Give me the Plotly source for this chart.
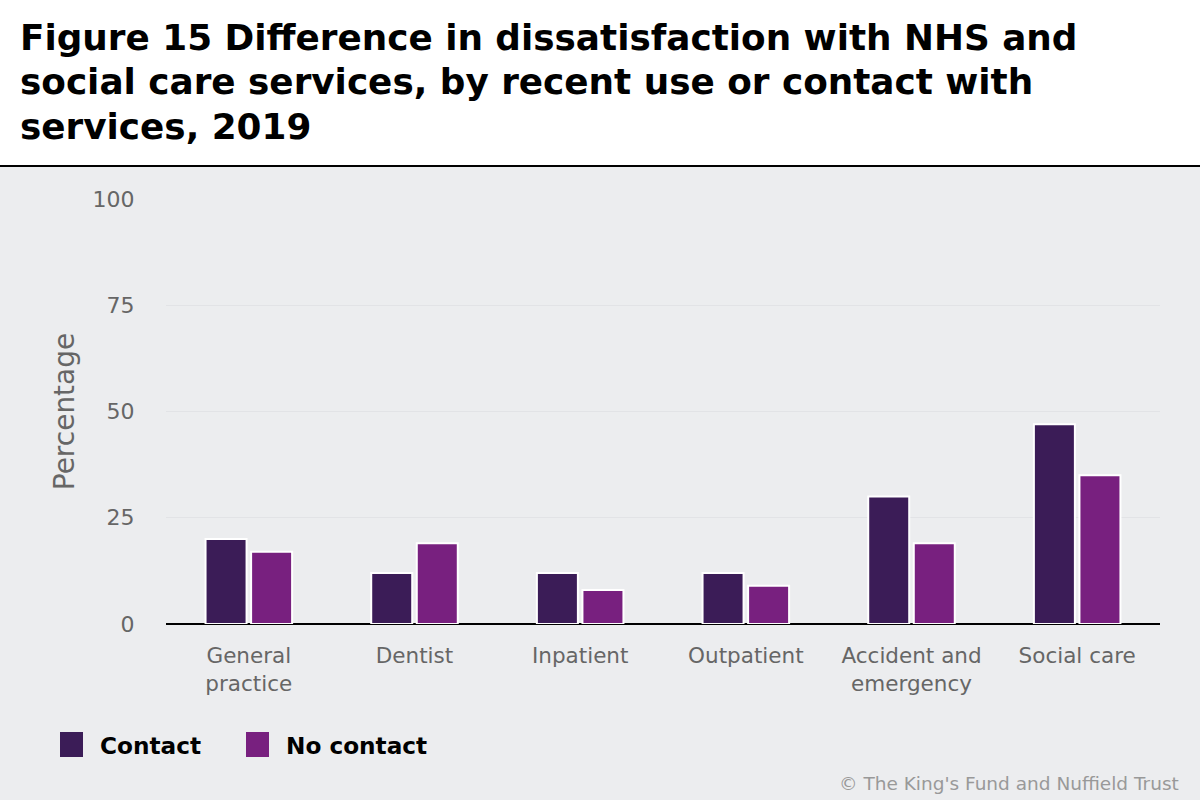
import plotly.graph_objects as go

categories = ["General<br>practice", "Dentist", "Inpatient", "Outpatient", "Accident and<br>emergency", "Social care"]
contact = [20, 12, 12, 12, 30, 47]
no_contact = [17, 19, 8, 9, 19, 35]
series_names = ["Contact", "No contact"]
series_colors = ["#3B1C57", "#78207F"]
y_ticks = [0, 25, 50, 75, 100]
title_lines = ["Figure 15 Difference in dissatisfaction with NHS and",
               "social care services, by recent use or contact with",
               "services, 2019"]
source_text = "© The King's Fund and Nuffield Trust"

W, H = 1200, 800
BG = "#ECEDEF"
FONT = "DejaVu Sans, Verdana, sans-serif"

fig = go.Figure()
for name, vals, col in zip(series_names, [contact, no_contact], series_colors):
    fig.add_trace(go.Bar(
        x=categories, y=vals, name=name,
        marker=dict(color=col, line=dict(color="white", width=2)),
        showlegend=False,
    ))

plot_top, plot_bot = 199, 624
plot_l, plot_r = 166, 1160
def py(ypix):
    return (plot_bot - ypix) / (plot_bot - plot_top)
def px(xpix):
    return (xpix - plot_l) / (plot_r - plot_l)

shapes = [
    dict(type="rect", xref="paper", yref="paper", x0=px(0), x1=px(W), y0=py(166), y1=py(0),
         line=dict(width=0), fillcolor="white", layer="below"),
    dict(type="line", xref="paper", yref="paper", x0=px(0), x1=px(W), y0=py(166), y1=py(166),
         line=dict(color="black", width=2)),
]
annotations = []
for i, line in enumerate(title_lines):
    annotations.append(dict(text="<b>" + line + "</b>", xref="paper", yref="paper",
                            x=px(18), y=py(37 + 45 * i), xanchor="left", yanchor="middle",
                            showarrow=False, font=dict(family=FONT, size=35.8, color="black")))
# legend
leg_items = [(60, 98), (246, 284)]
for (bx, tx), name, col in zip(leg_items, series_names, series_colors):
    shapes.append(dict(type="rect", xref="paper", yref="paper", x0=px(bx), x1=px(bx + 23),
                       y0=py(757), y1=py(732), line=dict(width=0), fillcolor=col))
    annotations.append(dict(text="<b>" + name + "</b>", xref="paper", yref="paper", x=px(tx), y=py(745),
                            xanchor="left", yanchor="middle", showarrow=False,
                            font=dict(family=FONT, size=23.2, color="black")))
annotations.append(dict(text=source_text, xref="paper", yref="paper",
                        x=px(1181), y=py(783), xanchor="right", yanchor="middle", showarrow=False,
                        font=dict(family=FONT, size=18.5, color="#999999")))

fig.update_layout(
    width=W, height=H,
    paper_bgcolor=BG, plot_bgcolor=BG,
    margin=dict(l=plot_l, r=W - plot_r, t=plot_top, b=H - plot_bot, pad=0),
    barmode="group", bargap=0.45, bargroupgap=0.1,
    shapes=shapes, annotations=annotations,
    font=dict(family=FONT),
)
fig.update_xaxes(showgrid=False, showline=False, zeroline=False,
                 ticks="outside", ticklen=12, tickcolor="rgba(0,0,0,0)",
                 tickfont=dict(family=FONT, size=21.5, color="#666666"))
fig.update_yaxes(range=[0, 100], tickvals=y_ticks, showgrid=True, gridcolor="#E2E3E6", gridwidth=1,
                 zeroline=True, zerolinecolor="black", zerolinewidth=1.5, showline=False,
                 ticks="outside", ticklen=26, tickcolor="rgba(0,0,0,0)",
                 tickfont=dict(family=FONT, size=22, color="#666666"),
                 title=dict(text="Percentage", font=dict(family=FONT, size=28, color="#666666"), standoff=9))
fig.write_html("out.html")
